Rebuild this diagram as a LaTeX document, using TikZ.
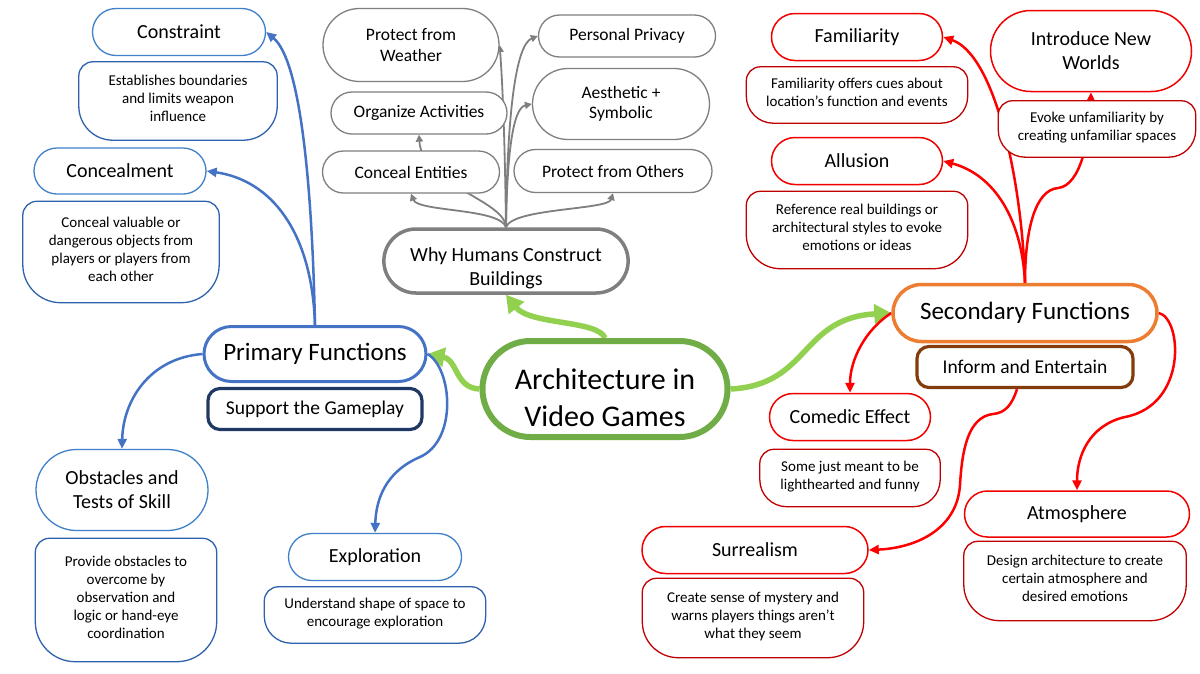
\documentclass[tikz,border=0pt]{standalone}
\usepackage{fontspec}
\setmainfont{Carlito}
\usetikzlibrary{arrows.meta,shapes.misc,calc}
\pgfdeclarelayer{back}\pgfdeclarelayer{mid}
\pgfsetlayers{back,mid,main}
\definecolor{bluec}{HTML}{4472C4}
\definecolor{blueh}{HTML}{3F80C8}
\definecolor{bluedd}{HTML}{2E62AC}
\definecolor{navy}{HTML}{1F3864}
\definecolor{greenc}{HTML}{92D050}
\definecolor{greend}{HTML}{70AD47}
\definecolor{grayn}{HTML}{7F7F7F}
\definecolor{redc}{HTML}{FF0000}
\definecolor{redh}{HTML}{F20000}
\definecolor{redd}{HTML}{C00000}
\definecolor{orangec}{HTML}{ED7D31}
\definecolor{brownc}{HTML}{843C0C}
\newcommand\dframe[3]{%
  \filldraw[#2, fill=white, line join=round] let \p1=(#1.north west), \p2=(#1.south east) in
    (\x1,{\y1-14pt}) arc[start angle=180, end angle=90, radius=14pt]
    -- ({\x2-14pt},\y1) arc[start angle=90, end angle=0, radius=14pt]
    -- (\x2,{\y2+#3}) arc[start angle=0, end angle=-90, radius=#3]
    -- ({\x1+#3},\y2) arc[start angle=270, end angle=180, radius=#3]
    -- cycle;}
\newcommand\toppad[1]{\rule{0pt}{\dimexpr\ht\strutbox+#1\relax}}
\begin{document}
\begin{tikzpicture}[x=1pt,y=-1pt,
  hd/.style={rounded rectangle, draw, fill=white, inner sep=0pt, align=center,
    font=\fontsize{20}{24}\selectfont},
  bhd/.style={hd, draw=blueh, line width=1.3pt},
  ghd/.style={hd, draw=grayn, line width=1.3pt, font=\fontsize{17.5}{20.5}\selectfont},
  rhd/.style={hd, draw=redh, line width=1.5pt},
  desc/.style={rectangle, inner sep=0pt, align=center, font=\fontsize{15}{18}\selectfont,
    execute at begin node=\strut, execute at end node=\strut},
  bdesc/.style={draw=bluedd, line width=1.3pt},
  rdesc/.style={draw=redd, line width=1.3pt},
  bconn/.style={draw=bluec, line width=2.5pt, -{Triangle[length=10pt,width=9pt]}},
  rconn/.style={draw=redc, line width=2.5pt, -{Triangle[length=10pt,width=9pt]}},
  gconn/.style={draw=grayn, line width=1.8pt, -{Triangle[length=7pt,width=7pt]}},
  grconn/.style={draw=greenc, line width=5.5pt, -{Triangle[length=17pt,width=19pt]}},
  boxed/.style={rectangle, rounded corners=12pt, fill=white, inner sep=0pt, align=center,
    line width=3.2pt, font=\fontsize{19.5}{24}\selectfont}
]
\useasboundingbox (0,0) rectangle (1200,673);

% ---------- left (blue) ----------
\node[bhd, minimum width=173pt, minimum height=47pt] (con) at (179,32) {Constraint};
\node[desc, minimum width=198pt, minimum height=78pt] (conD) at (178,101) {Establishes boundaries\\and limits weapon\\influence};
\node[bhd, minimum width=172pt, minimum height=46pt] (cm) at (120,171) {Concealment};
\node[desc, minimum width=196pt, minimum height=101pt] (cmD) at (121,252) {Conceal valuable or\\dangerous objects from\\players or players from\\each other};
\node[hd, draw=bluec, line width=3pt, minimum width=222pt, minimum height=55pt,
  font=\fontsize{25}{30}\selectfont] (pf) at (315,354) {Primary Functions};
\node[boxed, draw=navy, minimum width=214pt, minimum height=41pt] (sg) at (315,409) {Support the Gameplay};
\node[bhd, minimum width=172pt, minimum height=81pt] (obs) at (122,490) {Obstacles and\\Tests of Skill};
\node[desc, minimum width=181pt, minimum height=123pt] (obsD) at (126,600) {Provide obstacles to\\overcome by\\observation and\\logic or hand-eye\\coordination};
\node[bhd, minimum width=173pt, minimum height=47pt] (exp) at (375,557) {Exploration};
\node[desc, minimum width=221pt, minimum height=56pt] (expD) at (375,615) {Understand shape of space to\\encourage exploration};

% ---------- centre ----------
\node[hd, draw=greend, line width=6pt, minimum width=245pt, minimum height=96pt,
  font=\fontsize{30}{37}\selectfont] (arch) at (605,389) {\toppad{13pt}Architecture in\\Video Games};
\node[hd, draw=grayn, line width=3.5pt, minimum width=242pt, minimum height=64pt] (why) at (506,261) {\toppad{15pt}Why Humans Construct\\Buildings\strut};
\node[ghd, minimum width=176pt, minimum height=73pt] (pw) at (411,45) {Protect from\\Weather};
\node[ghd, minimum width=176pt, minimum height=42pt] (oa) at (419,113) {Organize Activities};
\node[ghd, minimum width=177pt, minimum height=42pt] (ce) at (411,172) {Conceal Entities};
\node[ghd, minimum width=177pt, minimum height=42pt] (pp) at (627,36) {Personal Privacy};
\node[ghd, minimum width=177pt, minimum height=71pt] (aes) at (621,104) {Aesthetic +\\Symbolic};
\node[ghd, minimum width=198pt, minimum height=43pt] (pfo) at (613,171) {Protect from Others};

% ---------- right (red) ----------
\node[hd, draw=orangec, line width=3.5pt, minimum width=264pt, minimum height=57pt,
  font=\fontsize{25}{30}\selectfont] (sf) at (1025,313) {Secondary Functions};
\node[boxed, draw=brownc, minimum width=216pt, minimum height=41pt] (ie) at (1025,367) {Inform and Entertain};
\node[rhd, minimum width=171pt, minimum height=47pt] (fam) at (857,37) {Familiarity};
\node[desc, minimum width=221pt, minimum height=56pt] (famD) at (857,95) {Familiarity offers cues about\\location’s function and events};
\node[rhd, minimum width=201pt, minimum height=81pt] (inw) at (1091,51) {Introduce New\\Worlds};
\node[desc, minimum width=197pt, minimum height=56pt] (evD) at (1097,129) {Evoke unfamiliarity by\\creating unfamiliar spaces};
\node[rhd, minimum width=171pt, minimum height=47pt] (al) at (857,161) {Allusion};
\node[desc, minimum width=221pt, minimum height=77pt] (alD) at (857,230) {Reference real buildings or\\architectural styles to evoke\\emotions or ideas};
\node[rhd, minimum width=161pt, minimum height=47pt] (cef) at (850,417) {Comedic Effect};
\node[desc, minimum width=180pt, minimum height=57pt] (cefD) at (850,478) {Some just meant to be\\lighthearted and funny};
\node[rhd, minimum width=225pt, minimum height=46pt] (atm) at (1077,514) {Atmosphere};
\node[desc, minimum width=222pt, minimum height=79pt] (atmD) at (1075,581) {Design architecture to create\\certain atmosphere and\\desired emotions};
\node[rhd, minimum width=226pt, minimum height=47pt] (sur) at (755,550) {Surrealism};
\node[desc, minimum width=221pt, minimum height=79pt] (surD) at (753,618) {Create sense of mystery and\\warns players things aren’t\\what they seem};

% ---------- description frames ----------
\begin{pgfonlayer}{mid}
\dframe{conD}{bdesc}{34pt}
\dframe{cmD}{bdesc}{38pt}
\dframe{obsD}{bdesc}{40pt}
\dframe{expD}{bdesc}{27pt}
\dframe{famD}{rdesc}{27pt}
\dframe{evD}{rdesc}{27pt}
\dframe{alD}{rdesc}{34pt}
\dframe{cefD}{rdesc}{27pt}
\dframe{atmD}{rdesc}{36pt}
\dframe{surD}{rdesc}{36pt}
\end{pgfonlayer}

% ---------- connectors ----------
\begin{pgfonlayer}{back}
\fill[white] (0,0) rectangle (1200,673);
% gray
\draw[gconn] (why.north) .. controls (500,208) and (418,212) .. (ce.south);
\draw[gconn] (why.north) .. controls (512,208) and (608,210) .. (pfo.south);
\draw[gconn] (why.north) .. controls (505,200) and (422,185) .. (oa.south);
\draw[gconn] (why.north) .. controls (505,150) and (503,90) .. (pw.east);
\draw[gconn] (why.north) .. controls (507,120) and (515,45) .. (pp.west);
\draw[gconn] (why.north) .. controls (507,160) and (512,108) .. (aes.west);
% green
\draw[grconn] (arch.north) .. controls (598,320) and (530,325) .. (why.south);
\draw[grconn] (arch.west) .. controls (455,388) and (458,360) .. (pf.east);
\draw[grconn] (arch.east) .. controls (810,385) and (800,318) .. (sf.west);
% blue
\draw[bconn] (pf.north) .. controls (312,180) and (300,60) .. (con.east);
\draw[bconn] (pf.north) .. controls (312,230) and (270,180) .. (cm.east);
\draw[bconn] (pf.west) .. controls (150,358) and (123,400) .. (obs.north);
\draw[bconn] (pf.east) .. controls (452,368) and (458,440) .. (420,457)
  .. controls (385,472) and (376,500) .. (exp.north);
% red
\draw[rconn] (sf.north) .. controls (1022,180) and (995,55) .. (fam.east);
\draw[rconn] (sf.north) .. controls (1022,220) and (995,175) .. (al.east);
\draw[rconn] (sf.north) .. controls (1025,230) and (1035,190) .. (1058,188)
  .. controls (1080,186) and (1090,140) .. (inw.south);
\draw[rconn] (sf.west) .. controls (865,330) and (850,360) .. (cef.north);
\draw[rconn] ($(ie.south)+(-8,0)$) .. controls (1012,405) and (1005,413) .. (993,414)
  .. controls (968,417) and (962,450) .. (960,485)
  .. controls (957,530) and (915,548) .. (sur.east);
\draw[rconn] (sf.east) .. controls (1182,318) and (1188,405) .. (1125,417)
  .. controls (1090,425) and (1077,455) .. (atm.north);
\end{pgfonlayer}
\end{tikzpicture}
\end{document}
